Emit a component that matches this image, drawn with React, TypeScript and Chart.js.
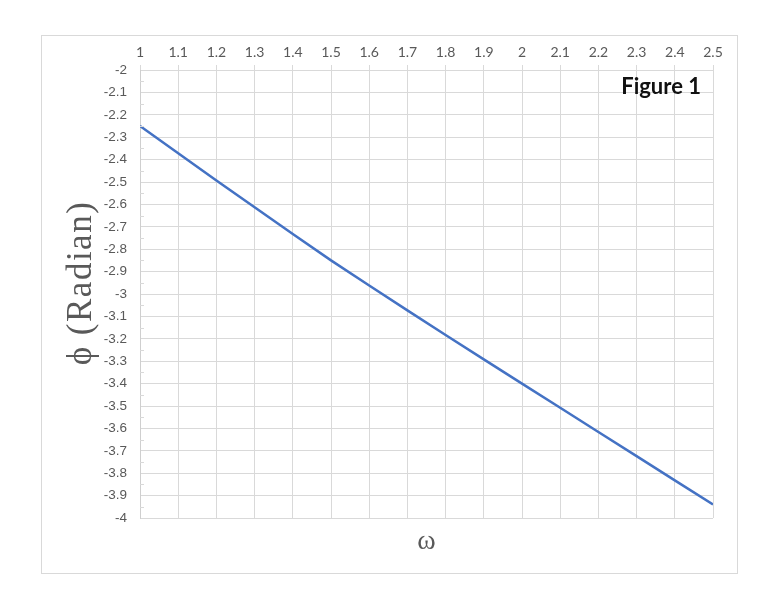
import { useEffect, useRef } from "react";
import { Chart, registerables } from "chart.js";
import type { Plugin } from "chart.js";

Chart.register(...registerables);

// values
const omega = [1, 1.1, 1.2, 1.3, 1.4, 1.5, 1.6, 1.7, 1.8, 1.9, 2, 2.1, 2.2, 2.3, 2.4, 2.5];
const phi = [
  -2.25, -2.372, -2.493, -2.613, -2.732, -2.85, -2.962, -3.073, -3.183, -3.292, -3.4, -3.508,
  -3.616, -3.724, -3.832, -3.94,
];
const xRange = [1, 2.5];
const yRange = [-4, -2];
const tickStep = 0.1;
const yTitle = "ϕ (Radian)";
const xTitle = "ω";
const figLabel = "Figure 1";

const gridColor = "#d9d9d9";
const textColor = "#595959";

const fmt = (v: number | string) => String(Math.round(Number(v) * 10) / 10);

// inside minor ticks on y, the y title and the "Figure 1" label
const extras: Plugin = {
  id: "extras",
  afterDraw(chart) {
    const { ctx, chartArea } = chart;
    const y = chart.scales.y;
    ctx.save();
    ctx.strokeStyle = gridColor;
    ctx.lineWidth = 1;
    for (let i = 0; i < y.ticks.length - 1; i++) {
      const mid = (y.ticks[i].value + y.ticks[i + 1].value) / 2;
      const py = Math.round(y.getPixelForValue(mid)) + 0.5;
      ctx.beginPath();
      ctx.moveTo(chartArea.left, py);
      ctx.lineTo(chartArea.left + 4, py);
      ctx.stroke();
    }

    ctx.fillStyle = "#111";
    ctx.font = "bold 22px Lato";
    ctx.textAlign = "right";
    ctx.textBaseline = "middle";
    ctx.fillText(figLabel, chartArea.right - 12, chartArea.top + 17);

    // y title
    ctx.translate(82, (chartArea.top + chartArea.bottom) / 2 - 11);
    ctx.rotate(-Math.PI / 2);
    (ctx as any).letterSpacing = "1.5px";
    ctx.fillStyle = textColor;
    ctx.font = "35px 'Liberation Serif'";
    ctx.textAlign = "center";
    ctx.fillText(yTitle, 0, 0);
    ctx.restore();
  },
};

const PhaseChart = () => {
  const canvasRef = useRef<HTMLCanvasElement | null>(null);
  const chartRef = useRef<Chart | null>(null);

  useEffect(() => {
    if (!canvasRef.current) return;
    if (chartRef.current) chartRef.current.destroy();

    chartRef.current = new Chart(canvasRef.current, {
      type: "line",
      data: {
        datasets: [
          {
            data: omega.map((x, i) => ({ x, y: phi[i] })),
            borderColor: "#4472C4",
            borderWidth: 2.5,
            pointRadius: 0,
            tension: 0,
          },
        ],
      },
      options: {
        responsive: true,
        maintainAspectRatio: false,
        animation: false,
        layout: { padding: { left: 42, top: 35, right: 71, bottom: 38 } },
        plugins: {
          legend: { display: false },
          tooltip: { enabled: false },
        },
        scales: {
          x: {
            type: "linear",
            position: "top",
            min: xRange[0],
            max: xRange[1],
            afterFit: (s) => {
              s.height = 35;
            },
            ticks: {
              stepSize: tickStep,
              padding: 4,
              color: textColor,
              font: { family: "Lato", size: 14 },
              maxRotation: 0,
              autoSkip: false,
              callback: (v) => fmt(v),
            },
            grid: { color: gridColor, tickLength: 5, tickColor: gridColor },
            border: { color: gridColor },
          },
          x2: {
            type: "linear",
            position: "bottom",
            afterFit: (s) => {
              s.height = 56;
            },
            ticks: { display: false },
            grid: { display: false },
            border: { display: false },
            title: {
              display: true,
              text: xTitle,
              color: textColor,
              font: { family: "Liberation Serif", size: 28 },
              padding: { top: 0, bottom: 16 },
            },
          },
          y: {
            min: yRange[0],
            max: yRange[1],
            afterFit: (s) => {
              s.width = 98;
            },
            ticks: {
              stepSize: tickStep,
              padding: 13,
              color: textColor,
              font: { family: "Liberation Sans", size: 13.5 },
              autoSkip: false,
              callback: (v) => fmt(v),
            },
            grid: { color: gridColor, drawTicks: false },
            border: { color: "#cfcfcf" },
          },
        },
      },
      plugins: [extras],
    });

    return () => chartRef.current?.destroy();
  }, []);

  return (
    <div style={{ position: "fixed", left: 0, top: 0, width: 784, height: 612, background: "#fff" }}>
      {/* outer frame */}
      <div
        style={{
          position: "absolute",
          left: 41,
          top: 35,
          width: 697,
          height: 539,
          border: `1px solid ${gridColor}`,
          boxSizing: "border-box",
        }}
      />
      <div style={{ position: "absolute", inset: 0 }}>
        <canvas ref={canvasRef}></canvas>
      </div>
    </div>
  );
};

export default function App() {
  return <PhaseChart />;
}
